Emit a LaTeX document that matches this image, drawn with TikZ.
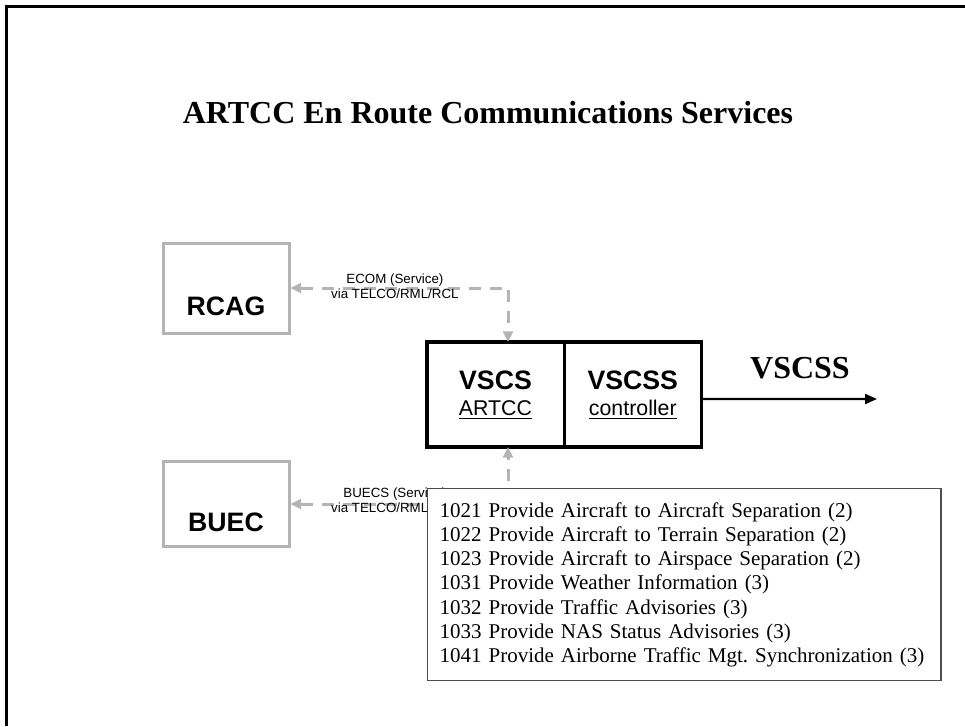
\documentclass[tikz,border=0pt]{standalone}
\usepackage{fontspec}
\setmainfont{Liberation Serif}
\setsansfont{Liberation Sans}
\usetikzlibrary{arrows.meta,positioning}
\definecolor{linegray}{HTML}{B4B4B4}
\definecolor{boxline}{HTML}{4D4D4D}

\begin{document}
\begin{tikzpicture}[x=0.75pt,y=-0.75pt,node distance=94pt and 0pt,every node/.style={align=center},
  g/.style={draw=linegray,line width=2.25pt,minimum width=94.5pt,minimum height=67.5pt,font=\sffamily\bfseries\fontsize{20}{27}\selectfont},
  v/.style={draw=black,line width=2.5pt,outer sep=0pt,minimum width=103pt,minimum height=78.75pt,font=\sffamily\bfseries\fontsize{20}{19}\selectfont},
  lbl/.style={font=\sffamily\fontsize{10}{11.25}\selectfont},
  lst/.style={draw=boxline,line width=1pt,fill=white,text width=367pt,align=left,inner xsep=9pt,minimum height=144pt,font=\fontsize{15.75}{18.15}\selectfont},
  d/.style={draw=linegray,line width=2.25pt,dash pattern=on 9pt off 6.75pt,{Triangle[length=8pt,width=7.5pt]}-{Triangle[length=8pt,width=7.5pt]}},
  a/.style={draw=black,line width=1.6pt,-{Triangle[length=9pt,width=7.5pt]}}]
  \useasboundingbox (0,0) rectangle (965,726);
  \draw[line width=2.25pt] (6,726) -- (6,6) -- (965,6);
  \node[font=\bfseries\fontsize{24}{28}\selectfont] (title) at (488,113) {ARTCC En Route Communications Services};
  % sites
  \node[g] (rcag) at (226,288) {\mbox{}\\[14pt]RCAG};
  \node[g,below=of rcag,minimum height=64pt] (buec) {\mbox{}\\[14pt]BUEC};
  % switch
  \node[v] (vscs) at (495.5,394.5) {VSCS\\[1pt]{\mdseries\fontsize{16}{19}\selectfont\underline{ARTCC}}};
  \node[v,right=of vscs] (vscss) {VSCSS\\[1pt]{\mdseries\fontsize{16}{19}\selectfont\underline{controller}}};
  \node[font=\bfseries\fontsize{24}{28}\selectfont] (out) at (800,368) {VSCSS};
  \coordinate (vend) at (877,399);
  \draw[a] ([yshift=-3.4pt]vscss.east) -- (vend);
  % links
  \draw[d] (rcag.east) -| ([xshift=9.4pt]vscs.north) node[lbl,pos=0.24,yshift=1pt] {ECOM (Service)\\via TELCO/RML/RCL};
  \draw[d] (buec.east) -| ([xshift=9.4pt]vscs.south) node[lbl,pos=0.24,yshift=3pt] {BUECS (Service)\\via TELCO/RML/RCL};
  \node[lst,anchor=north west] (svc) at (427,488) {1021 Provide Aircraft to Aircraft Separation (2)\\
    1022 Provide Aircraft to Terrain Separation (2)\\
    1023 Provide Aircraft to Airspace Separation (2)\\
    1031 Provide Weather Information (3)\\
    1032 Provide Traffic Advisories (3)\\
    1033 Provide NAS Status Advisories (3)\\
    1041 Provide Airborne Traffic Mgt.\ Synchronization (3)};
\end{tikzpicture}
\end{document}
